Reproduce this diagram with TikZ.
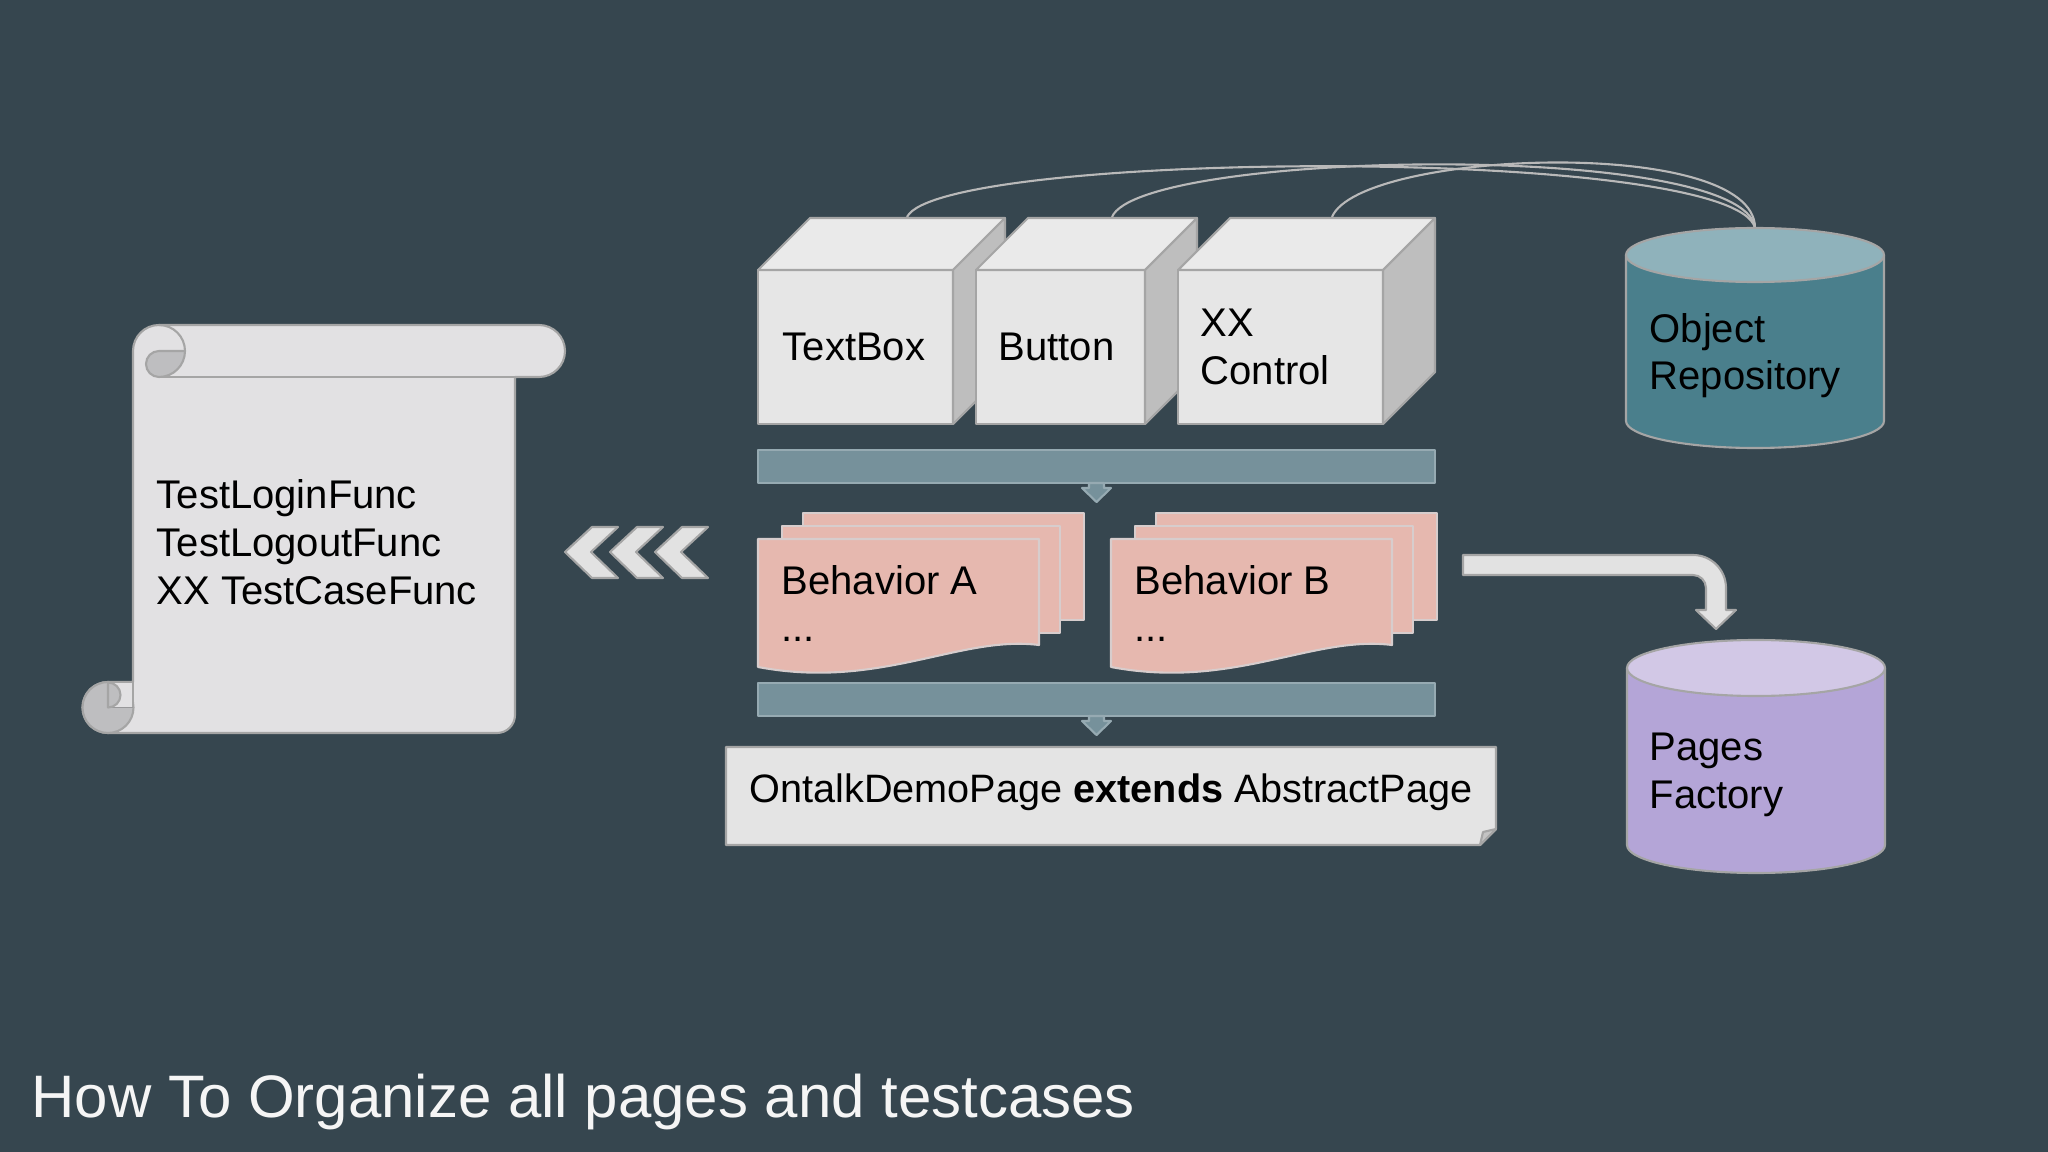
\documentclass[tikz,border=0pt]{standalone}
\usepackage{fontspec}
\setmainfont{Liberation Sans}
\definecolor{bg}{RGB}{54,70,79}
\definecolor{cubefront}{RGB}{230,230,230}
\definecolor{cubetop}{RGB}{234,234,234}
\definecolor{cubeside}{RGB}{190,190,190}
\definecolor{edgecol}{RGB}{165,165,165}
\definecolor{wirecol}{RGB}{185,185,185}
\definecolor{orbody}{RGB}{74,127,140}
\definecolor{ortop}{RGB}{143,178,187}
\definecolor{pfbody}{RGB}{180,165,215}
\definecolor{pftop}{RGB}{210,200,230}
\definecolor{barfill}{RGB}{118,145,155}
\definecolor{barline}{RGB}{150,170,178}
\definecolor{pinkfill}{RGB}{230,184,175}
\definecolor{pinkline}{RGB}{215,205,205}
\definecolor{paper}{RGB}{226,225,227}
\definecolor{paperdark}{RGB}{190,190,192}
\definecolor{boxfill}{RGB}{228,228,228}
\definecolor{folddark}{RGB}{195,195,195}
\definecolor{chevfill}{RGB}{226,226,226}
\definecolor{titlecol}{RGB}{245,245,245}
\newcommand\mycube[2]{%
 \filldraw[shp, fill=cubefront] (#1,270) rectangle (#2,424);
 \filldraw[shp, fill=cubetop] (#1,270) -- ({#1+52},218) -- ({#2+52},218) -- (#2,270) -- cycle;
 \filldraw[shp, fill=cubeside] (#2,270) -- ({#2+52},218) -- ({#2+52},372) -- (#2,424) -- cycle;}
\newcommand\mybehav[1]{%
 \filldraw[pinkst] ({803+#1},513) rectangle ({1084+#1},620);
 \filldraw[pinkst] ({782+#1},526) rectangle ({1060+#1},633);
 \filldraw[pinkst] ({758+#1},539) -- ({1039+#1},539) -- ({1039+#1},645) .. controls ({960+#1},635) and ({880+#1},690) .. ({758+#1},667) -- cycle;}
\newcommand\mychev[1]{%
 \filldraw[shp, fill=chevfill] (#1,552) -- ({#1+27},527) -- ({#1+53},527) -- ({#1+26},552) -- ({#1+53},578) -- ({#1+27},578) -- cycle;}
\newcommand\mybar[1]{%
 \filldraw[draw=barline, fill=barfill, line width=0.6pt] (758,#1) rectangle (1435,{#1+33});
 \filldraw[draw=barline, fill=barfill, line width=0.6pt] (1089,{#1+33}) -- (1104,{#1+33}) -- (1104,{#1+38}) -- (1111,{#1+38}) -- (1096.5,{#1+52}) -- (1082,{#1+38}) -- (1089,{#1+38}) -- cycle;}
\begin{document}
\begin{tikzpicture}[x=0.01cm,y=-0.01cm, line join=round,
  txt/.style={anchor=base west, inner sep=0pt, font=\fontsize{11.38pt}{13.5pt}\selectfont, text=black},
  shp/.style={draw=edgecol, line width=0.6pt},
  pinkst/.style={draw=pinkline, fill=pinkfill, line width=0.6pt},
  wire/.style={draw=wirecol, line width=0.6pt}]
\fill[bg] (0,0) rectangle (2048,1152);

% curved connectors
\coordinate (c1) at (907,217);
\coordinate (c2) at (1112,217);
\coordinate (c3) at (1332,217);
\coordinate (orTop) at (1755,228);
\draw[wire] (c1) .. controls (940,150) and (1735,145) .. (orTop);
\draw[wire] (c2) .. controls (1140,150) and (1745,140) .. (orTop);
\draw[wire] (c3) .. controls (1360,150) and (1755,135) .. (orTop);

% cubes
\mycube{758}{953}
\mycube{976}{1145}
\mycube{1178}{1383}
\node[txt] (tb) at (782,361) {TextBox};
\node[txt] (bt) at (998,361) {Button};
\node[txt] (xx1) at (1200,337) {XX};
\node[txt] (xx2) at (1200,385) {Control};

% object repository
\filldraw[shp, fill=orbody] (1626,255) -- (1626,421) arc[start angle=180,end angle=0,x radius=129,y radius=27] -- (1884,255) -- cycle;
\filldraw[shp, fill=ortop] (1755,255) ellipse[x radius=129, y radius=27];
\node[txt] (or1) at (1649,343) {Object};
\node[txt] (or2) at (1649,390) {Repository};

% bars
\mybar{450}
\mybar{683}

% behaviors
\mybehav{0}
\mybehav{353}
\node[txt] (ba) at (781,594) {Behavior A};
\node[txt] (bad) at (781,642) {...};
\node[txt] (bb) at (1134,594) {Behavior B};
\node[txt] (bbd) at (1134,642) {...};

% page box
\filldraw[shp, fill=boxfill] (726,747) -- (1496,747) -- (1496,829) -- (1480,845) -- (726,845) -- cycle;
\filldraw[shp, fill=folddark] (1496,829) -- (1480,845) -- (1483,832) -- cycle;
\node[txt, font=\fontsize{11.27pt}{13.5pt}\selectfont] (ont) at (749,802) {OntalkDemoPage \textbf{extends} AbstractPage};

% scroll
\filldraw[shp, fill=paper] (133,351) arc[start angle=180,end angle=270,radius=26] -- (539,325)
  arc[start angle=270,end angle=450,radius=26] -- (515,377) -- (515,715)
  arc[start angle=0,end angle=90,radius=18] -- (108,733)
  arc[start angle=90,end angle=270,radius=25.5] -- (133,682) -- cycle;
\draw[shp] (159,377) -- (515,377);
\draw[shp] (159,325) arc[start angle=270,end angle=360,radius=26];
\filldraw[shp, fill=paperdark] (159,351) -- (185,351) arc[start angle=0,end angle=90,radius=26]
  arc[start angle=90,end angle=270,radius=13] -- cycle;
\filldraw[shp, fill=paperdark] (108,707.5) circle[radius=25.5];
\fill[paper] (108,682) rectangle (133,707.5);
\draw[shp] (108,682) -- (133,682) -- (133,707.5);
\draw[draw=paperdark!80!black, line width=0.4pt] (108,707.5) -- (133,707.5);
\filldraw[shp, fill=paperdark] (108,682.5) arc[start angle=270,end angle=450,radius=12.5] -- cycle;
\node[txt] (s1) at (156,509) {TestLoginFunc};
\node[txt] (s2) at (156,557) {TestLogoutFunc};
\node[txt] (s3) at (156,604) {XX TestCaseFunc};

% chevrons
\mychev{565}
\mychev{610}
\mychev{655}

% bent arrow
\filldraw[shp, fill=chevfill] (1463,555) -- (1693,555) arc[start angle=270,end angle=360,radius=33]
  -- (1726,610) -- (1736,610) -- (1716,629) -- (1696,610) -- (1706,610) -- (1706,588)
  arc[start angle=0,end angle=-90,radius=13] -- (1463,575) -- cycle;

% pages factory
\filldraw[shp, fill=pfbody] (1627,668) -- (1627,845) arc[start angle=180,end angle=0,x radius=129,y radius=28] -- (1885,668) -- cycle;
\filldraw[shp, fill=pftop] (1756,668) ellipse[x radius=129, y radius=28];
\node[txt] (pf1) at (1649,760) {Pages};
\node[txt] (pf2) at (1649,808) {Factory};

% title
\node[anchor=base west, inner sep=0pt, text=titlecol, font=\fontsize{17.05pt}{20pt}\selectfont] (title) at (31,1117) {How To Organize all pages and testcases};
\end{tikzpicture}
\end{document}
